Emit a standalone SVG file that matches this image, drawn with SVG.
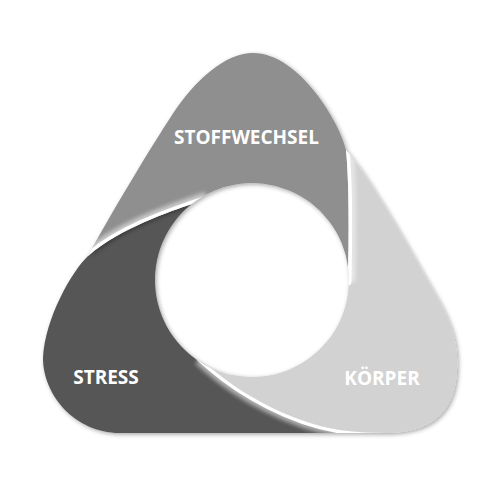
<svg xmlns="http://www.w3.org/2000/svg" width="500" height="500" viewBox="0 0 500 500">
<defs>
<style>
.lbl{font-family:"Open Sans","Liberation Sans",sans-serif;font-weight:700;font-size:19px;fill:#fff;text-anchor:middle}
.band{fill:none;stroke:#fff;stroke-width:7;stroke-linecap:round}
.glow{fill:none;stroke:#fff;stroke-width:14;opacity:.55;filter:url(#blur)}
</style>
<filter id="sh" x="-10%" y="-10%" width="120%" height="120%"><feDropShadow dx="1.5" dy="1.5" stdDeviation="2" flood-color="#000" flood-opacity="0.35"/></filter>
<filter id="blur" x="-20%" y="-20%" width="140%" height="140%"><feGaussianBlur stdDeviation="2"/></filter>
<path id="pTop" d="M348.2,267.8 C349,228 349,180 346,150 C341,125 300,53 253,53 C225,53 195,80 172,115 C151,147 110,215 88,256 C120,228 172,211 191.6,204.1 A97,97 0 0 1 348.2,267.8 Z"/>
<path id="pDark" d="M191.6,204.1 C172,211 120,228 88,256 C72,271 45,318 43,358 C43,395 75,433 120,433 L385,433 C370,433 355,432 340,430 C290,422 240,393 211,367.9 A97,97 0 0 1 191.6,204.1 Z"/>
<path id="pLight" d="M211,367.9 C240,393 290,422 340,430 C355,432 370,433 385,433 C440,433 459,405 457,357 C456,335 448,315 433,290 C415,258 372,180 346,150 C349,180 349,228 348.2,267.8 A97,97 0 0 1 211,367.9 Z"/>
<clipPath id="cTop"><use href="#pTop"/></clipPath>
<clipPath id="cDark"><use href="#pDark"/></clipPath>
<clipPath id="cLight"><use href="#pLight"/></clipPath>
</defs>
<rect width="500" height="500" fill="#fff"/>
<g id="stress">
<use href="#pDark" fill="#575757" filter="url(#sh)"/>
<text class="lbl" x="106" y="384">STRESS</text>
</g>
<g id="koerper">
<use href="#pLight" fill="#d2d2d2" filter="url(#sh)"/>
<text class="lbl" x="382" y="385">KÖRPER</text>
</g>
<g id="stoffwechsel">
<use href="#pTop" fill="#8f8f8f" filter="url(#sh)"/>
<text class="lbl" x="246.5" y="144">STOFFWECHSEL</text>
</g>
<g id="separators">
<g clip-path="url(#cTop)">
<path class="glow" d="M80,263 L88,256 C120,228 172,211 191.6,204.1 L207,199"/>
<path class="band" d="M80,263 L88,256 C120,228 172,211 191.6,204.1 L207,199"/>
</g>
<g clip-path="url(#cDark)">
<path class="glow" d="M200,358.4 L211,367.9 C240,393 290,422 340,430 C355,432 370,433 385,433 L400,433"/>
<path class="band" d="M200,358.4 L211,367.9 C240,393 290,422 340,430 C355,432 370,433 385,433 L400,433"/>
</g>
<g clip-path="url(#cLight)">
<path class="glow" d="M348,282 L348.2,267.8 C349,228 349,180 346,150 C341,125 300,53 253,53"/>
<path class="band" d="M348,282 L348.2,267.8 C349,228 349,180 346,150 C341,125 300,53 253,53"/>
</g>
</g>
</svg>
